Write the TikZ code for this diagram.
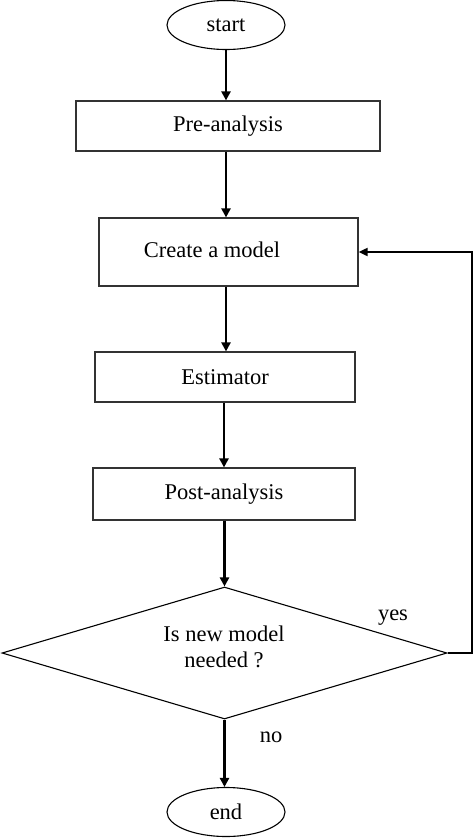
\documentclass[tikz,border=0pt]{standalone}
\usepackage{fontspec}
\setmainfont{Liberation Serif}
\usetikzlibrary{shapes.geometric,arrows.meta}
\begin{document}
\begin{tikzpicture}[x=1pt,y=-1pt,
  font=\fontsize{22.5}{26}\selectfont,
  term/.style={ellipse,draw,line width=1.1pt,minimum width=118pt,minimum height=49pt,inner sep=0pt},
  procbox/.style={rectangle,draw=black!80,line width=1.2pt,inner sep=0pt},
  txt/.style={inner sep=0pt,align=center},
  flow/.style={line width=2.6pt,-{Triangle[length=9pt,width=9pt]}},
  back/.style={line width=1.8pt,-{Triangle[length=9pt,width=8pt]}}]
\useasboundingbox (0,0) rectangle (474,838);
\node[term] (start) at (226,25) {start};
\node[procbox,minimum width=304pt,minimum height=50pt] (pre) at (228,126) {Pre-analysis};
\node[procbox,minimum width=259pt,minimum height=68pt] (create) at (228.5,252) {};
\node[txt] (createtxt) at (212,250) {Create a model};
\node[procbox,minimum width=260pt,minimum height=50pt] (est) at (225,377) {Estimator};
\node[procbox,minimum width=262pt,minimum height=52pt] (post) at (224,494) {Post-analysis};
\node[diamond,draw,line width=1.1pt,minimum width=445pt,minimum height=132pt,inner sep=0pt] (dec) at (224.5,653) {};
\node[txt] (dectxt) at (224,647) {Is new model\\needed ?};
\node[term] (end) at (226,812) {end};
\node[txt] (yes) at (393,618) {yes};
\node[txt] (no) at (271,737) {no};
\coordinate (loop) at (472,653);
\draw[flow] (start.south) -- (start.south |- pre.north);
\draw[flow] (start.south |- pre.south) -- (start.south |- create.north);
\draw[flow] (start.south |- create.south) -- (start.south |- est.north);
\draw[flow] (post.north |- est.south) -- (post.north);
\draw[flow] (dec.north |- post.south) -- (dec.north);
\draw[flow] (dec.south) -- (dec.south |- end.north);
\draw[back] (dec.east) -- (loop) |- (create.east);
\end{tikzpicture}
\end{document}
